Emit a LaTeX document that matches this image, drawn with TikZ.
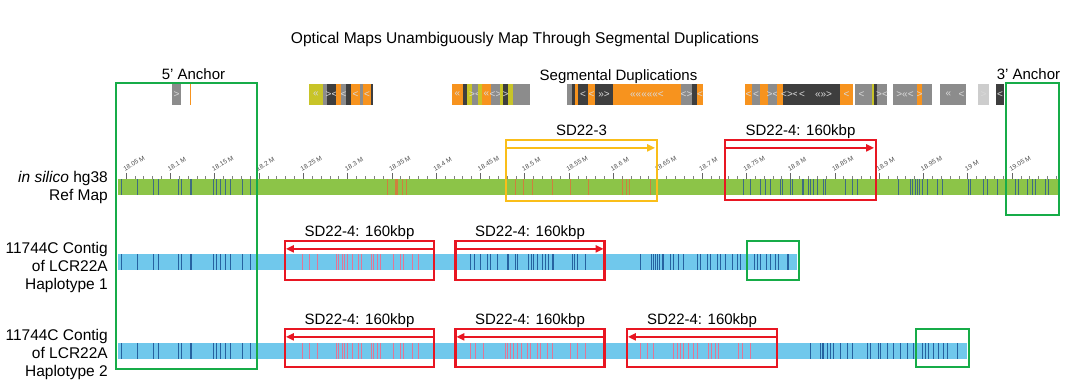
\documentclass[tikz,border=0pt]{standalone}
\usepackage{fontspec}
\setmainfont{Liberation Sans}
\usetikzlibrary{positioning,calc,arrows.meta}
\definecolor{sdred}{RGB}{232,22,34}
\definecolor{sdyellow}{RGB}{250,190,25}
\definecolor{anchorgreen}{RGB}{22,172,72}
\definecolor{mapgreen}{RGB}{140,196,72}
\definecolor{contigblue}{RGB}{112,200,236}
\definecolor{labelblue}{RGB}{38,98,160}
\definecolor{labelgreen}{RGB}{62,108,130}
\definecolor{labelpink}{RGB}{226,118,150}
\definecolor{labelorange}{RGB}{206,128,62}
\definecolor{segorange}{RGB}{247,147,30}
\definecolor{segdark}{RGB}{62,62,62}
\definecolor{seggray}{RGB}{140,140,140}
\definecolor{seglight}{RGB}{205,205,205}
\definecolor{segyellow}{RGB}{200,196,40}
\tikzset{
  redbox/.style={draw=sdred, line width=2.3pt, inner sep=0pt, minimum width=149pt, minimum height=39pt},
  yellowbox/.style={draw=sdyellow, line width=2.3pt, inner sep=0pt},
  anchorbox/.style={draw=anchorgreen, line width=2.3pt, inner sep=0pt},
  sdarrow/.style={draw=sdred, line width=2pt, -{Triangle[length=8pt,width=7pt]}},
  sdlabel/.style={anchor=base, inner sep=0pt, font=\fontsize{15}{18}\selectfont},
  lefttext/.style={anchor=base east, inner sep=0pt, font=\fontsize{15.5}{18}\selectfont},
  ticklabel/.style={anchor=south west, inner sep=0pt, rotate=30, text=black!70, font=\fontsize{6.5}{6.5}\selectfont},
  chev/.style={inner sep=0pt, text=white!85!black, font=\fontsize{10}{10}\selectfont}
}
\newcommand{\anchorlines}[3]{%
  \foreach \p in {121,137,153,158,178,181,190,191,213,216,220,225,230,242,250}
    \draw[#3, line width=0.9pt] (\p,#1) -- (\p,#2);}
\begin{document}
\begin{tikzpicture}[x=1pt,y=-1pt]
\useasboundingbox (0,0) rectangle (1080,384);
\node[sdlabel, font=\fontsize{15.6}{18}\selectfont] (title) at (525,43) {Optical Maps Unambiguously Map Through Segmental Duplications};
\node[sdlabel] (five) at (193.5,79.5) {5’ Anchor};
\node[sdlabel] (segdup) at (618.5,80) {Segmental Duplications};
\node[sdlabel] (three) at (1028.5,79.5) {3’ Anchor};
\foreach \a/\b/\c/\t in {172/181/seggray/{>},189.5/191/segorange/{},
    309/323/segyellow/{<<},323/327/seggray/{},327/336/segdark/{><},336/341/segorange/{},341/346/seggray/{<},
    346/351/segdark/{},351/360/segorange/{<},360/363/seggray/{},363/371/segorange/{<},371/373/segdark/{},
    452/463/segorange/{<<},463/467/segdark/{},467/472/segyellow/{},472/478/seggray/{><},478/482/segyellow/{},
    482/491/segorange/{<<},491/500/seggray/{<>},500/503/segyellow/{},503/508/segdark/{>},508/513/segyellow/{},
    513/530/seggray/{},
    567/572/seggray/{},572/575/segdark/{},575/578/segorange/{},578/588/segdark/{<},588/595/segorange/{<},
    595/613/segdark/{>>>},613/681/segorange/{<<<<<<<<<<<},681/692/seggray/{<>},692/697/segdark/{},697/703/segorange/{<},
    745/752/segorange/{<},752/760/seggray/{<},760/768/segorange/{},768/777/seggray/{><},777/783/segorange/{},
    783/797/segdark/{<><},797/807/segdark/{<},807/840/segdark/{<<>>>},840/853/segorange/{<},
    855/868/seggray/{<},868/872/seggray/{},872/874/segyellow/{},874/877/segdark/{},877/887/seggray/{><},
    893/917/seggray/{><<<},917/922/segorange/{>},922/932/seggray/{},
    940/957/seggray/{<<},957/966/seggray/{<},978/989/seglight/{>},996/1004/segdark/{<}} {
  \fill[\c] (\a,84) rectangle (\b,105);
  \node[chev] at ({(\a+\b)/2},94.5) {\t};
}
\fill[mapgreen] (118,179) rectangle (1058,195);
\foreach \i in {0,...,105}
  \draw[black!50, line width=0.5pt] ({126+\i*8.86},176) -- ({126+\i*8.86},179);
\foreach \lab [count=\k from 0] in {18.05,18.1,18.15,18.2,18.25,18.3,18.35,18.4,18.45,18.5,18.55,18.6,18.65,18.7,18.75,18.8,18.85,18.9,18.95,19,19.05} {
  \draw[black!60, line width=0.5pt] ({126+\k*44.3},173) -- ({126+\k*44.3},179);
  \node[ticklabel] at ({125+\k*44.3},171.5) {\lab\ M};
}
\anchorlines{179}{195}{labelgreen}
\foreach \p in {387,395,396,397,402,406,515,523,532,552,570,588,622,626,629,650}
  \draw[labelorange, line width=0.9pt] (\p,179) -- (\p,195);
\foreach \p in {743,750,760,765,770,780,782,790,792,802,803,808,810,813,817,823,825,845,852,857,
    898,910,912,915,917,919,922,927,937,942,968,970,983,987,997,1015,1018,1027,1032,1035,1045,1048}
  \draw[labelgreen, line width=0.9pt] (\p,179) -- (\p,195);
\fill[contigblue] (118,254) rectangle (797,270);
\anchorlines{254}{270}{labelblue}
\foreach \p in {302,309,317,336,338,342,344,347,352,358,361,371,373,377,380,393,400,403,412,418}
  \draw[labelpink, line width=0.8pt] (\p,254) -- (\p,270);
\foreach \p in {470,474,480,487,490,497,507,508,515,517,528,531,533,537,542,545,548,552,553,572,574,577,585,
    640,651,653,655,657,659,662,663,670,673,678,683,697,700,707,710,717,720,725,732,737,740,
    754,757,760,766,770,775,778,787,788}
  \draw[labelblue, line width=0.8pt] (\p,254) -- (\p,270);
\fill[contigblue] (118,343) rectangle (967,359);
\anchorlines{343}{359}{labelblue}
\foreach \p in {302,309,317,336,338,342,344,347,352,358,361,371,373,377,380,393,400,403,412,418,
    470,475,483,505,507,510,513,517,521,527,530,537,540,547,552,570,577,585,
    640,647,653,673,677,680,683,688,693,697,708,711,715,718,738,742,750}
  \draw[labelpink, line width=0.8pt] (\p,343) -- (\p,359);
\foreach \p in {810,820,822,823,827,830,833,840,847,852,867,870,878,880,887,893,900,907,913,
    922,925,928,933,938,943,947,957}
  \draw[labelblue, line width=0.8pt] (\p,343) -- (\p,359);
\node[lefttext] (ref1) at (108,182) {\textit{in silico} hg38};
\node[lefttext] (ref2) at (108,200) {Ref Map};
\node[lefttext] (hapa1) at (108,253) {11744C Contig};
\node[lefttext] (hapa2) at (108,271) {of LCR22A};
\node[lefttext] (hapa3) at (108,289) {Haplotype 1};
\node[lefttext] (hapb1) at (108,340) {11744C Contig};
\node[lefttext] (hapb2) at (108,358) {of LCR22A};
\node[lefttext] (hapb3) at (108,376) {Haplotype 2};
\node[anchorbox, minimum width=141pt, minimum height=286pt] (five box) at (186.5,226) {};
\node[anchorbox, minimum width=53pt, minimum height=132pt] (three box) at (1032.5,149) {};
\node[yellowbox, minimum width=151pt, minimum height=61pt] (sd3) at (581.5,170.5) {};
\node[redbox, minimum width=151pt, minimum height=60pt] (sd4) at (800.5,170) {};
\draw[sdarrow, draw=sdyellow] ($(sd3.north west)+(2,9)$) -- ($(sd3.north east)+(-3,9)$);
\draw[sdarrow] ($(sd4.north west)+(2,9)$) -- ($(sd4.north east)+(-3,9)$);
\node[sdlabel] at ($(sd3.north)+(0,-3)$) {SD22-3};
\node[sdlabel] at ($(sd4.north)+(0,-3)$) {SD22-4: 160kbp};
\node[redbox] (a1) at (359.5,260.5) {};
\node[redbox] (a2) at (530,260.5) {};
\node[anchorbox, minimum width=52pt, minimum height=39pt] (a3) at (773,260.5) {};
\node[redbox, minimum height=38pt] (b1) at (359.5,348) {};
\node[redbox, minimum height=38pt] (b2) at (530,348) {};
\node[redbox, minimum width=150pt, minimum height=38pt] (b3) at (702,348) {};
\node[anchorbox, minimum width=53pt, minimum height=38pt] (b4) at (942.5,348) {};
\draw[sdarrow] ($(a1.north east)+(-1,9)$) -- ($(a1.north west)+(2,9)$);
\draw[sdarrow] ($(a2.north west)+(1,9)$) -- ($(a2.north east)+(-2,9)$);
\draw[sdarrow] ($(b1.north east)+(-1,9)$) -- ($(b1.north west)+(2,9)$);
\draw[sdarrow] ($(b2.north east)+(-1,9)$) -- ($(b2.north west)+(2,9)$);
\draw[sdarrow] ($(b3.north east)+(-1,9)$) -- ($(b3.north west)+(2,9)$);
\foreach \n in {a1,a2,b1,b2,b3}
  \node[sdlabel] at ($(\n.north)+(0,-3)$) {SD22-4: 160kbp};
\end{tikzpicture}
\end{document}
